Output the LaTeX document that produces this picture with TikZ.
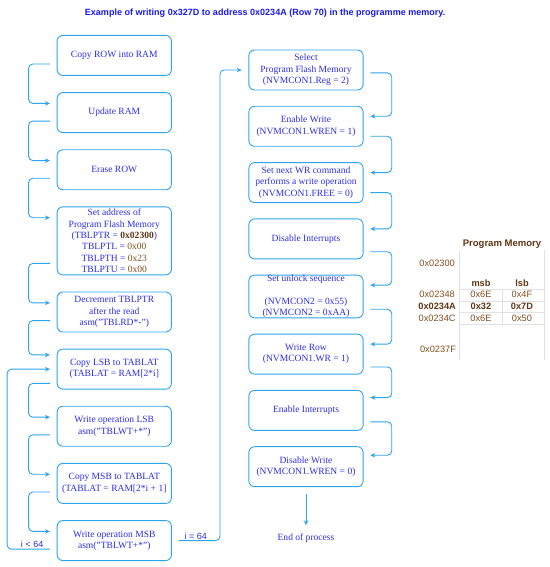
\documentclass[tikz,border=0pt]{standalone}
\usepackage{fontspec}
\setmainfont{Liberation Serif}
\setsansfont{Liberation Sans}
\usetikzlibrary{arrows.meta, positioning, calc}
\definecolor{flowblue}{RGB}{45,165,235}
\definecolor{textblue}{RGB}{45,45,230}
\definecolor{titleblue}{RGB}{25,25,235}
\definecolor{membrown}{RGB}{130,80,30}
\definecolor{memdark}{RGB}{95,55,20}
\definecolor{gridgray}{RGB}{226,226,226}
\newcommand{\memval}[1]{\textcolor{membrown}{#1}}

\begin{document}
\begin{tikzpicture}[
        node distance=0.6cm,
        box/.style={rectangle, draw=flowblue, line width=0.9pt, rounded corners=0.2cm, fill=white, minimum width=4cm, minimum height=1.4cm, inner xsep=2pt, inner ysep=1pt, outer sep=0pt, align=center, text=textblue, font=\fontsize{9.5}{11.3}\selectfont},
        flow/.style={-{Stealth[length=5pt, width=4.5pt]}, line width=0.9pt, flowblue, rounded corners=0.15cm, shorten <=0.25cm, shorten >=0.25cm},
        lbl/.style={text=textblue, font=\sffamily\fontsize{9}{10}\selectfont, inner sep=1pt},
        mem/.style={text=membrown, font=\sffamily\fontsize{9.2}{10}\selectfont, inner sep=1pt},
        memhead/.style={text=memdark, font=\sffamily\bfseries\fontsize{9.2}{10}\selectfont, inner sep=1pt},
        memgrid/.style={gridgray, line width=0.6pt}
    ]
        \useasboundingbox (0,0) rectangle (19.25,-19.845);

        \node[font=\sffamily\bfseries\fontsize{9}{10}\selectfont, text=titleblue] (title) at (9.28,-0.455) {Example of writing 0x327D to address 0x0234A (Row 70) in the programme memory.};

        \node[box] (copyrow) at (4.0,-1.94) {Copy ROW into RAM};
        \node[box, below=of copyrow] (updram) {Update RAM};
        \node[box, below=of updram] (erase) {Erase ROW};
        \node[box, below=of erase, minimum height=2.38cm] (setaddr) {Set address of\\Program Flash Memory\\(TBLPTR = \textbf{\textcolor{memdark}{0x02300}})\\TBLPTL = \memval{0x00}\\TBLPTH = \memval{0x23}\\TBLPTU = \memval{0x00}};
        \node[box, below=of setaddr] (decr) {Decrement TBLPTR\\after the read\\asm("TBLRD*-")};
        \node[box, below=of decr] (copylsb) {Copy LSB to TABLAT\\(TABLAT = RAM[2*i]};
        \node[box, below=of copylsb] (wrlsb) {Write operation LSB\\asm("TBLWT+*")};
        \node[box, below=of wrlsb] (copymsb) {Copy MSB to TABLAT\\(TABLAT = RAM[2*i + 1]};
        \node[box, below=of copymsb] (wrmsb) {Write operation MSB\\asm("TBLWT+*")};

        \node[box] (selmem) at (10.71,-2.45) {Select\\Program Flash Memory\\(NVMCON1.Reg = 2)};
        \node[box, below=0.57cm of selmem] (enwr) {Enable Write\\(NVMCON1.WREN = 1)};
        \node[box, below=0.57cm of enwr] (setfree) {Set next WR command\\performs a write operation\\(NVMCON1.FREE = 0)};
        \node[box, below=0.57cm of setfree] (disint) {Disable Interrupts};
        \node[box, below=0.57cm of disint, inner ysep=0pt] (unlock) {Set unlock sequence\\[11.3pt](NVMCON2 = 0x55)\\(NVMCON2 = 0xAA)};
        \node[box, below=0.57cm of unlock] (wrrow) {Write Row\\(NVMCON1.WR = 1)};
        \node[box, below=0.57cm of wrrow] (enint) {Enable Interrupts};
        \node[box, below=0.57cm of enint] (diswr) {Disable Write\\(NVMCON1.WREN = 0)};
        \node[below=1.6cm of diswr, inner sep=1pt, text=textblue, font=\fontsize{9.5}{11.3}\selectfont] (done) {End of process};

        \draw[flow] ([yshift=0.4cm]copyrow.south west) -- ++(-1.0,0) |- ([yshift=-0.38cm]updram.north west);
        \draw[flow] ([yshift=0.4cm]updram.south west) -- ++(-1.0,0) |- ([yshift=-0.38cm]erase.north west);
        \draw[flow] ([yshift=0.4cm]erase.south west) -- ++(-1.0,0) |- ([yshift=-0.38cm]setaddr.north west);
        \draw[flow] ([yshift=0.4cm]setaddr.south west) -- ++(-1.0,0) |- ([yshift=-0.38cm]decr.north west);
        \draw[flow] ([yshift=0.4cm]decr.south west) -- ++(-1.0,0) |- ([yshift=-0.2cm]copylsb.north west);
        \draw[flow] ([yshift=0.2cm]copylsb.south west) -- ++(-1.0,0) |- ([yshift=-0.38cm]wrlsb.north west);
        \draw[flow] ([yshift=0.4cm]wrlsb.south west) -- ++(-1.0,0) |- ([yshift=-0.38cm]copymsb.north west);
        \draw[flow] ([yshift=0.4cm]copymsb.south west) -- ++(-1.0,0) |- ([yshift=-0.38cm]wrmsb.north west);
        \draw[flow] ([yshift=0.4cm]wrmsb.south west) -- ++(-1.75,0) node[midway, above, lbl] {i < 64} |- (copylsb.west);
        \draw[flow] (wrmsb.east) -- ++(1.7,0) node[midway, above, lbl] {i = 64} |- (selmem.west);

        \draw[flow] ([yshift=0.6cm]selmem.south east) -- ++(1.0,0) |- ([yshift=-0.35cm]enwr.north east);
        \draw[flow] ([yshift=0.35cm]enwr.south east) -- ++(1.0,0) |- ([yshift=-0.35cm]setfree.north east);
        \draw[flow] ([yshift=0.35cm]setfree.south east) -- ++(1.0,0) |- ([yshift=-0.35cm]disint.north east);
        \draw[flow] ([yshift=0.25cm]disint.south east) -- ++(1.0,0) |- ([yshift=-0.35cm]unlock.north east);
        \draw[flow] ([yshift=0.3cm]unlock.south east) -- ++(1.0,0) |- ([yshift=-0.35cm]wrrow.north east);
        \draw[flow] ([yshift=0.25cm]wrrow.south east) -- ++(1.0,0) |- ([yshift=-0.25cm]enint.north east);
        \draw[flow] ([yshift=0.3cm]enint.south east) -- ++(1.0,0) |- ([yshift=-0.3cm]diswr.north east);
        \draw[flow] (diswr) -- (done);

        \node[memhead, font=\sffamily\bfseries\fontsize{9.5}{10}\selectfont] (pmtitle) at (17.57,-8.54) {Program Memory};
        \node[mem] (addrfirst) at (15.30,-9.205) {0x02300};
        \node[memhead] (msbhead) at (16.835,-9.905) {msb};
        \node[memhead] (lsbhead) at (18.27,-9.905) {lsb};
        \node[mem] (addr48) at (15.30,-10.31) {0x02348};
        \node[mem] (msb48) at (16.835,-10.31) {0x6E};
        \node[mem] (lsb48) at (18.27,-10.31) {0x4F};
        \node[memhead] (addr4A) at (15.30,-10.73) {0x0234A};
        \node[memhead] (msb4A) at (16.835,-10.73) {0x32};
        \node[memhead] (lsb4A) at (18.27,-10.73) {0x7D};
        \node[mem] (addr4C) at (15.30,-11.13) {0x0234C};
        \node[mem] (msb4C) at (16.835,-11.13) {0x6E};
        \node[mem] (lsb4C) at (18.27,-11.13) {0x50};
        \node[mem] (addrlast) at (15.33,-12.215) {0x0237F};

        \draw[memgrid] (16.065,-8.75) -- (16.065,-12.6);
        \draw[memgrid] (19.04,-8.75) -- (19.04,-12.6);
        \draw[memgrid] (17.57,-10.115) -- (17.57,-11.34);
        \draw[memgrid] (16.065,-10.115) -- (19.04,-10.115);
        \draw[memgrid] (16.065,-10.535) -- (19.04,-10.535);
        \draw[memgrid] (16.065,-10.92) -- (19.04,-10.92);
        \draw[memgrid] (16.065,-11.34) -- (19.04,-11.34);
    \end{tikzpicture}
\end{document}
